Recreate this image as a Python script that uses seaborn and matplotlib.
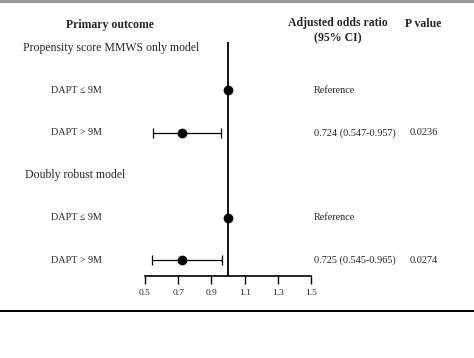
import numpy as np
import pandas as pd
import matplotlib
matplotlib.use("Agg")
import matplotlib.pyplot as plt
import matplotlib.transforms as mtrans
from matplotlib.lines import Line2D
import seaborn as sns

# ---- data ----
groups = ["Propensity score MMWS only model", "Doubly robust model"]
labels = ["DAPT \u2264 9M", "DAPT > 9M", "DAPT \u2264 9M", "DAPT > 9M"]
odds = [1.0, 0.724, 1.0, 0.725]
ci_low = [np.nan, 0.547, np.nan, 0.545]
ci_high = [np.nan, 0.957, np.nan, 0.965]
or_text = ["Reference", "0.724 (0.547-0.957)", "Reference", "0.725 (0.545-0.965)"]
p_text = ["", "0.0236", "", "0.0274"]
x_ticks = [0.5, 0.7, 0.9, 1.1, 1.3, 1.5]
rows = [1, 2, 4, 5]
group_rows = [0, 3]

sns.set_theme(style="white")
plt.rcParams["font.family"] = ["Liberation Serif", "DejaVu Serif"]

W, H = 474, 358
fig = plt.figure(figsize=(W / 100, H / 100), dpi=100)
ax = fig.add_axes([145 / W, 1 - 276 / H, 166 / W, 234 / H])

df = pd.DataFrame({"row": rows, "odds": odds, "lo": ci_low, "hi": ci_high})
ci = df.dropna()
ax.errorbar(ci["odds"], ci["row"],
            xerr=[ci["odds"] - ci["lo"], ci["hi"] - ci["odds"]],
            fmt="none", ecolor="black", elinewidth=0.9, capsize=3.5, capthick=0.9)
ax.axvline(1.0, color="black", lw=1.3, zorder=1)
sns.scatterplot(data=df, x="odds", y="row", ax=ax, color="black", s=42,
                edgecolor="black", zorder=3, legend=False)

ax.set_xlim(0.5, 1.5)
ax.set_ylim(5.377, -0.1415)
ax.set_xticks(x_ticks)
ax.set_xticklabels([f"{t:.1f}" for t in x_ticks], fontsize=6.8)
ax.set_yticks([])
ax.set_xlabel("")
ax.set_ylabel("")
for s in ["left", "top", "right"]:
    ax.spines[s].set_visible(False)
ax.spines["bottom"].set_color("black")
ax.spines["bottom"].set_linewidth(1.2)
ax.tick_params(axis="x", direction="out", length=6, width=1, color="black",
               pad=3.5, bottom=True, labelcolor="#222222")
ax.patch.set_alpha(0)

tr = mtrans.blended_transform_factory(fig.transFigure, ax.transData)

# headers
fig.text(110 / W, 1 - 25 / H, "Primary outcome", ha="center", va="center",
         fontsize=8.5, fontweight="bold")
fig.text(338 / W, 1 - 23 / H, "Adjusted odds ratio", ha="center", va="center",
         fontsize=8.5, fontweight="bold")
fig.text(338 / W, 1 - 38 / H, "(95% CI)", ha="center", va="center",
         fontsize=8.5, fontweight="bold")
fig.text(423 / W, 1 - 24 / H, "P value", ha="center", va="center",
         fontsize=8.5, fontweight="bold")

for g, r, xp in zip(groups, group_rows, [23, 25]):
    ax.text(xp / W, r, g, transform=tr, ha="left", va="center", fontsize=8.45)

for lab, r, ot, pt in zip(labels, rows, or_text, p_text):
    ax.text(76 / W, r, lab, transform=tr, ha="center", va="center", fontsize=7.3)
    ax.text(314 / W, r, ot, transform=tr, ha="left", va="center", fontsize=7.35)
    ax.text(410 / W, r, pt, transform=tr, ha="left", va="center", fontsize=7.35)

# frame lines
fig.add_artist(Line2D([0, 1], [1 - 1 / H, 1 - 1 / H], transform=fig.transFigure,
                      color="#9a9a9a", lw=2.2))
fig.add_artist(Line2D([0, 1], [1 - 311 / H, 1 - 311 / H], transform=fig.transFigure,
                      color="black", lw=1.4))

fig.savefig("out.png", dpi=100)
